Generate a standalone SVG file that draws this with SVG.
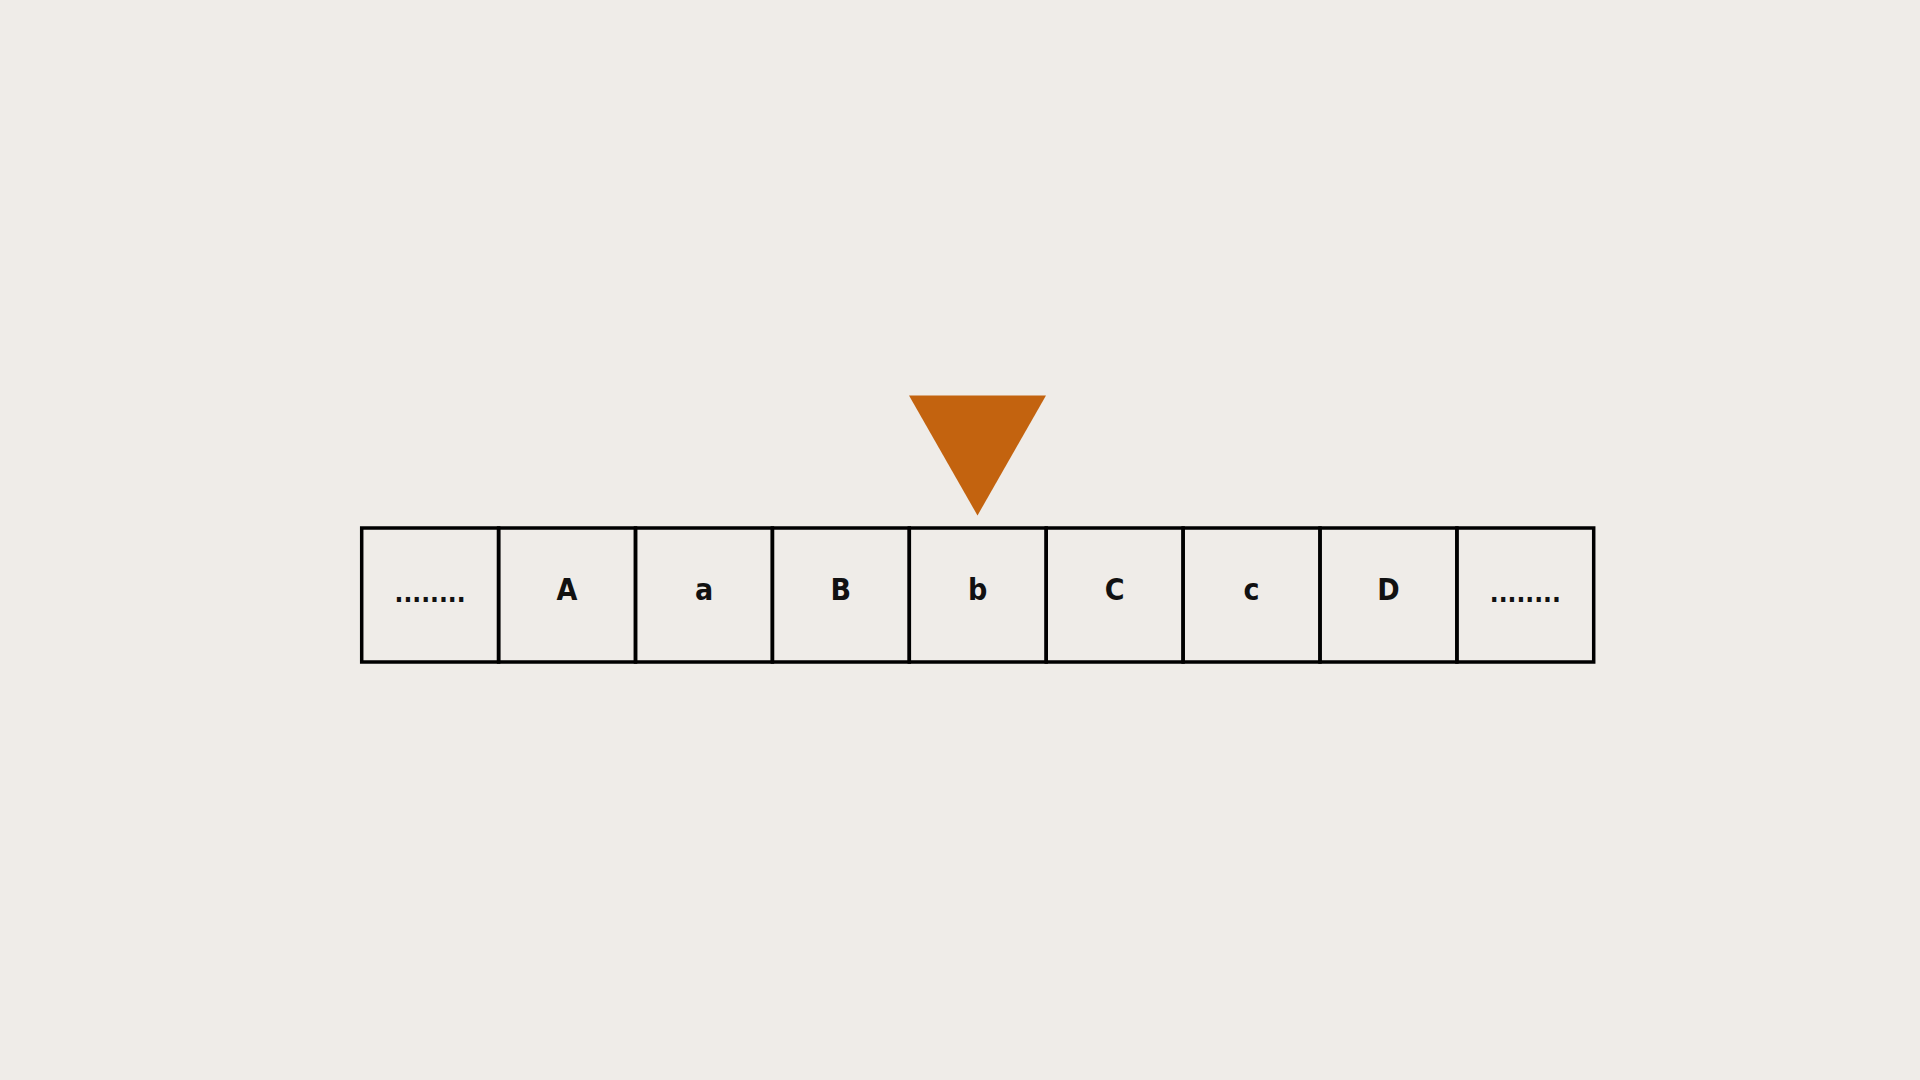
<svg xmlns="http://www.w3.org/2000/svg" width="1920" height="1080" viewBox="0 0 1920 1080">
<style>
.cell{fill:none;stroke:#000;stroke-width:3.5}
.lbl{font-family:"DejaVu Sans Condensed","DejaVu Sans",sans-serif;font-size:30px;font-weight:bold;fill:#111;text-anchor:middle}
.dots{font-family:"DejaVu Sans Condensed","DejaVu Sans",sans-serif;font-size:26px;font-weight:bold;fill:#111;text-anchor:middle}
</style>
<rect width="1920" height="1080" fill="#efece8"/>
<g id="pointer"><polygon points="909,395.5 1046,395.5 977.5,515.5" fill="#c3630f"/></g>
<g id="cell0"><rect class="cell" x="361.7" y="528" width="136.9" height="134"/><text class="dots" x="430.1" y="602">........</text></g>
<g id="cell1"><rect class="cell" x="498.6" y="528" width="136.9" height="134"/><text class="lbl" x="567" y="600">A</text></g>
<g id="cell2"><rect class="cell" x="635.5" y="528" width="136.9" height="134"/><text class="lbl" x="704" y="600">a</text></g>
<g id="cell3"><rect class="cell" x="772.4" y="528" width="136.9" height="134"/><text class="lbl" x="840.8" y="600">B</text></g>
<g id="cell4"><rect class="cell" x="909.3" y="528" width="136.9" height="134"/><text class="lbl" x="977.7" y="600">b</text></g>
<g id="cell5"><rect class="cell" x="1046.2" y="528" width="136.9" height="134"/><text class="lbl" x="1114.6" y="600">C</text></g>
<g id="cell6"><rect class="cell" x="1183.1" y="528" width="136.9" height="134"/><text class="lbl" x="1251.5" y="600">c</text></g>
<g id="cell7"><rect class="cell" x="1320" y="528" width="136.9" height="134"/><text class="lbl" x="1388.4" y="600">D</text></g>
<g id="cell8"><rect class="cell" x="1456.9" y="528" width="136.8" height="134"/><text class="dots" x="1525.3" y="602">........</text></g>
<g id="connectors"/>
</svg>
